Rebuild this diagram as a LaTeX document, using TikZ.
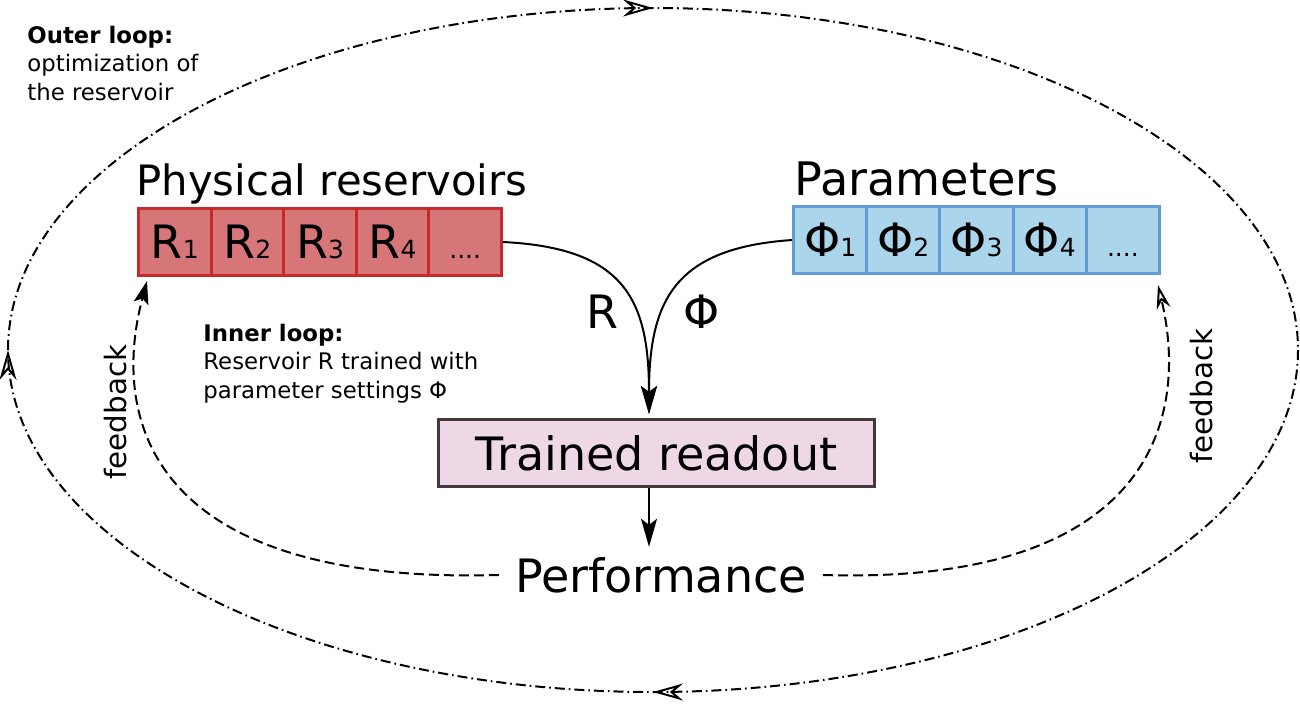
\documentclass[tikz,border=0pt]{standalone}
\usepackage{fontspec}
\setmainfont{DejaVu Sans}
\usetikzlibrary{arrows.meta,decorations.markings}

\definecolor{resfill}{RGB}{215,118,121}
\definecolor{resline}{RGB}{200,42,42}
\definecolor{parfill}{RGB}{170,213,235}
\definecolor{parline}{RGB}{98,155,212}
\definecolor{outfill}{RGB}{238,216,229}
\definecolor{outline}{RGB}{70,55,60}

\newcommand{\cellno}[1]{{\fontsize{12.5}{14}\selectfont #1}}

\begin{document}
\begin{tikzpicture}[x=0.5pt,y=-0.5pt,
    rescell/.style={draw=resline,fill=resfill,line width=1.5pt,minimum width=36.3pt,minimum height=33.5pt,inner sep=0pt,font=\fontsize{23}{27}\selectfont},
    parcell/.style={draw=parline,fill=parfill,line width=1.5pt,minimum width=36.6pt,minimum height=33.5pt,inner sep=0pt,font=\fontsize{23}{27}\selectfont},
    biglabel/.style={inner sep=0pt,font=\fontsize{23}{27}\selectfont},
    note/.style={align=left,inner sep=0pt,font=\fontsize{11.4}{14.25}\selectfont},
    flow/.style={line width=1pt,-{Stealth[length=14pt,width=8pt,inset=3pt]}},
    feed/.style={line width=1pt,dash pattern=on 5pt off 2.5pt},
    outerloop/.style={line width=1pt,dash pattern=on 5pt off 2pt on 0.8pt off 2pt,
        decoration={markings,
            mark=at position 0.25 with {\pgfsetdash{}{0pt}\arrow{Stealth[open,length=15pt,width=8.5pt,inset=5pt]}},
            mark=at position 0.5 with {\pgfsetdash{}{0pt}\arrow{Stealth[open,length=15pt,width=8.5pt,inset=5pt]}},
            mark=at position 0.75 with {\pgfsetdash{}{0pt}\arrow{Stealth[open,length=15pt,width=8.5pt,inset=5pt]}}},
        postaction={decorate}}
]
\useasboundingbox (0,0) rectangle (1300,703);

% outer loop
\draw[outerloop] (653,350) ellipse [x radius=645, y radius=342];
\node[note,anchor=base west] (outernote) at (27,100) {\textbf{Outer loop:}\\optimization of\\the reservoir};

% reservoirs
\node[biglabel,anchor=base west,font=\fontsize{20.9}{26}\selectfont] (reslabel) at (136,195) {Physical reservoirs};
\node[rescell] (r1) at (174.8,242) {R\cellno{1}};
\node[rescell] (r2) at (247.4,242) {R\cellno{2}};
\node[rescell] (r3) at (320,242) {R\cellno{3}};
\node[rescell] (r4) at (392.6,242) {R\cellno{4}};
\node[rescell] (r5) at (465.2,242) {\vphantom{R}\cellno{....}};

% parameters
\node[biglabel,anchor=base west,font=\fontsize{23.1}{27}\selectfont] (parlabel) at (794,195) {Parameters};
\node[parcell] (p1) at (830.1,240) {Φ\cellno{1}};
\node[parcell] (p2) at (903.3,240) {Φ\cellno{2}};
\node[parcell] (p3) at (976.5,240) {Φ\cellno{3}};
\node[parcell] (p4) at (1049.7,240) {Φ\cellno{4}};
\node[parcell] (p5) at (1122.9,240) {\vphantom{Φ}\cellno{....}};

% inner loop
\node[note,anchor=base west] (innernote) at (203,398) {\textbf{Inner loop:}\\Reservoir R trained with\\parameter settings Φ};
\coordinate (merge) at (649,414);
\draw[flow] (r5.east) .. controls (625,248) and (649,300) .. (merge);
\draw[flow] (p1.west) .. controls (675,248) and (649,300) .. (merge);
\node[biglabel] (rsym) at (602,312) {R};
\node[biglabel] (phisym) at (702,312) {Φ};

% readout and performance
\node[draw=outline,fill=outfill,line width=1.5pt,minimum width=218pt,minimum height=33.5pt,inner sep=0pt,font=\fontsize{23}{27}\selectfont] (readout) at (656.5,453) {Trained readout};
\node[biglabel,inner xsep=8pt,inner ysep=5pt] (perf) at (661,575) {Performance};
\draw[flow] (readout.south -| merge) -- (perf.north -| merge);

% feedback
\coordinate (fbleft) at (147,281);
\coordinate (fbright) at (1158,285);
\draw[feed,-{Stealth[length=11.5pt,width=7.5pt,inset=2.5pt]}] (perf.west) .. controls (150,585) and (110,420) .. (fbleft);
\draw[feed,-{Stealth[open,length=12pt,width=7pt,inset=4pt]}] (perf.east) .. controls (1150,585) and (1190,420) .. (fbright);
\node[rotate=90,inner sep=0pt,font=\fontsize{14.7}{18}\selectfont] (fbltext) at (116,412) {feedback};
\node[rotate=90,inner sep=0pt,font=\fontsize{14.7}{18}\selectfont] (fbrtext) at (1202,396) {feedback};

\end{tikzpicture}
\end{document}
